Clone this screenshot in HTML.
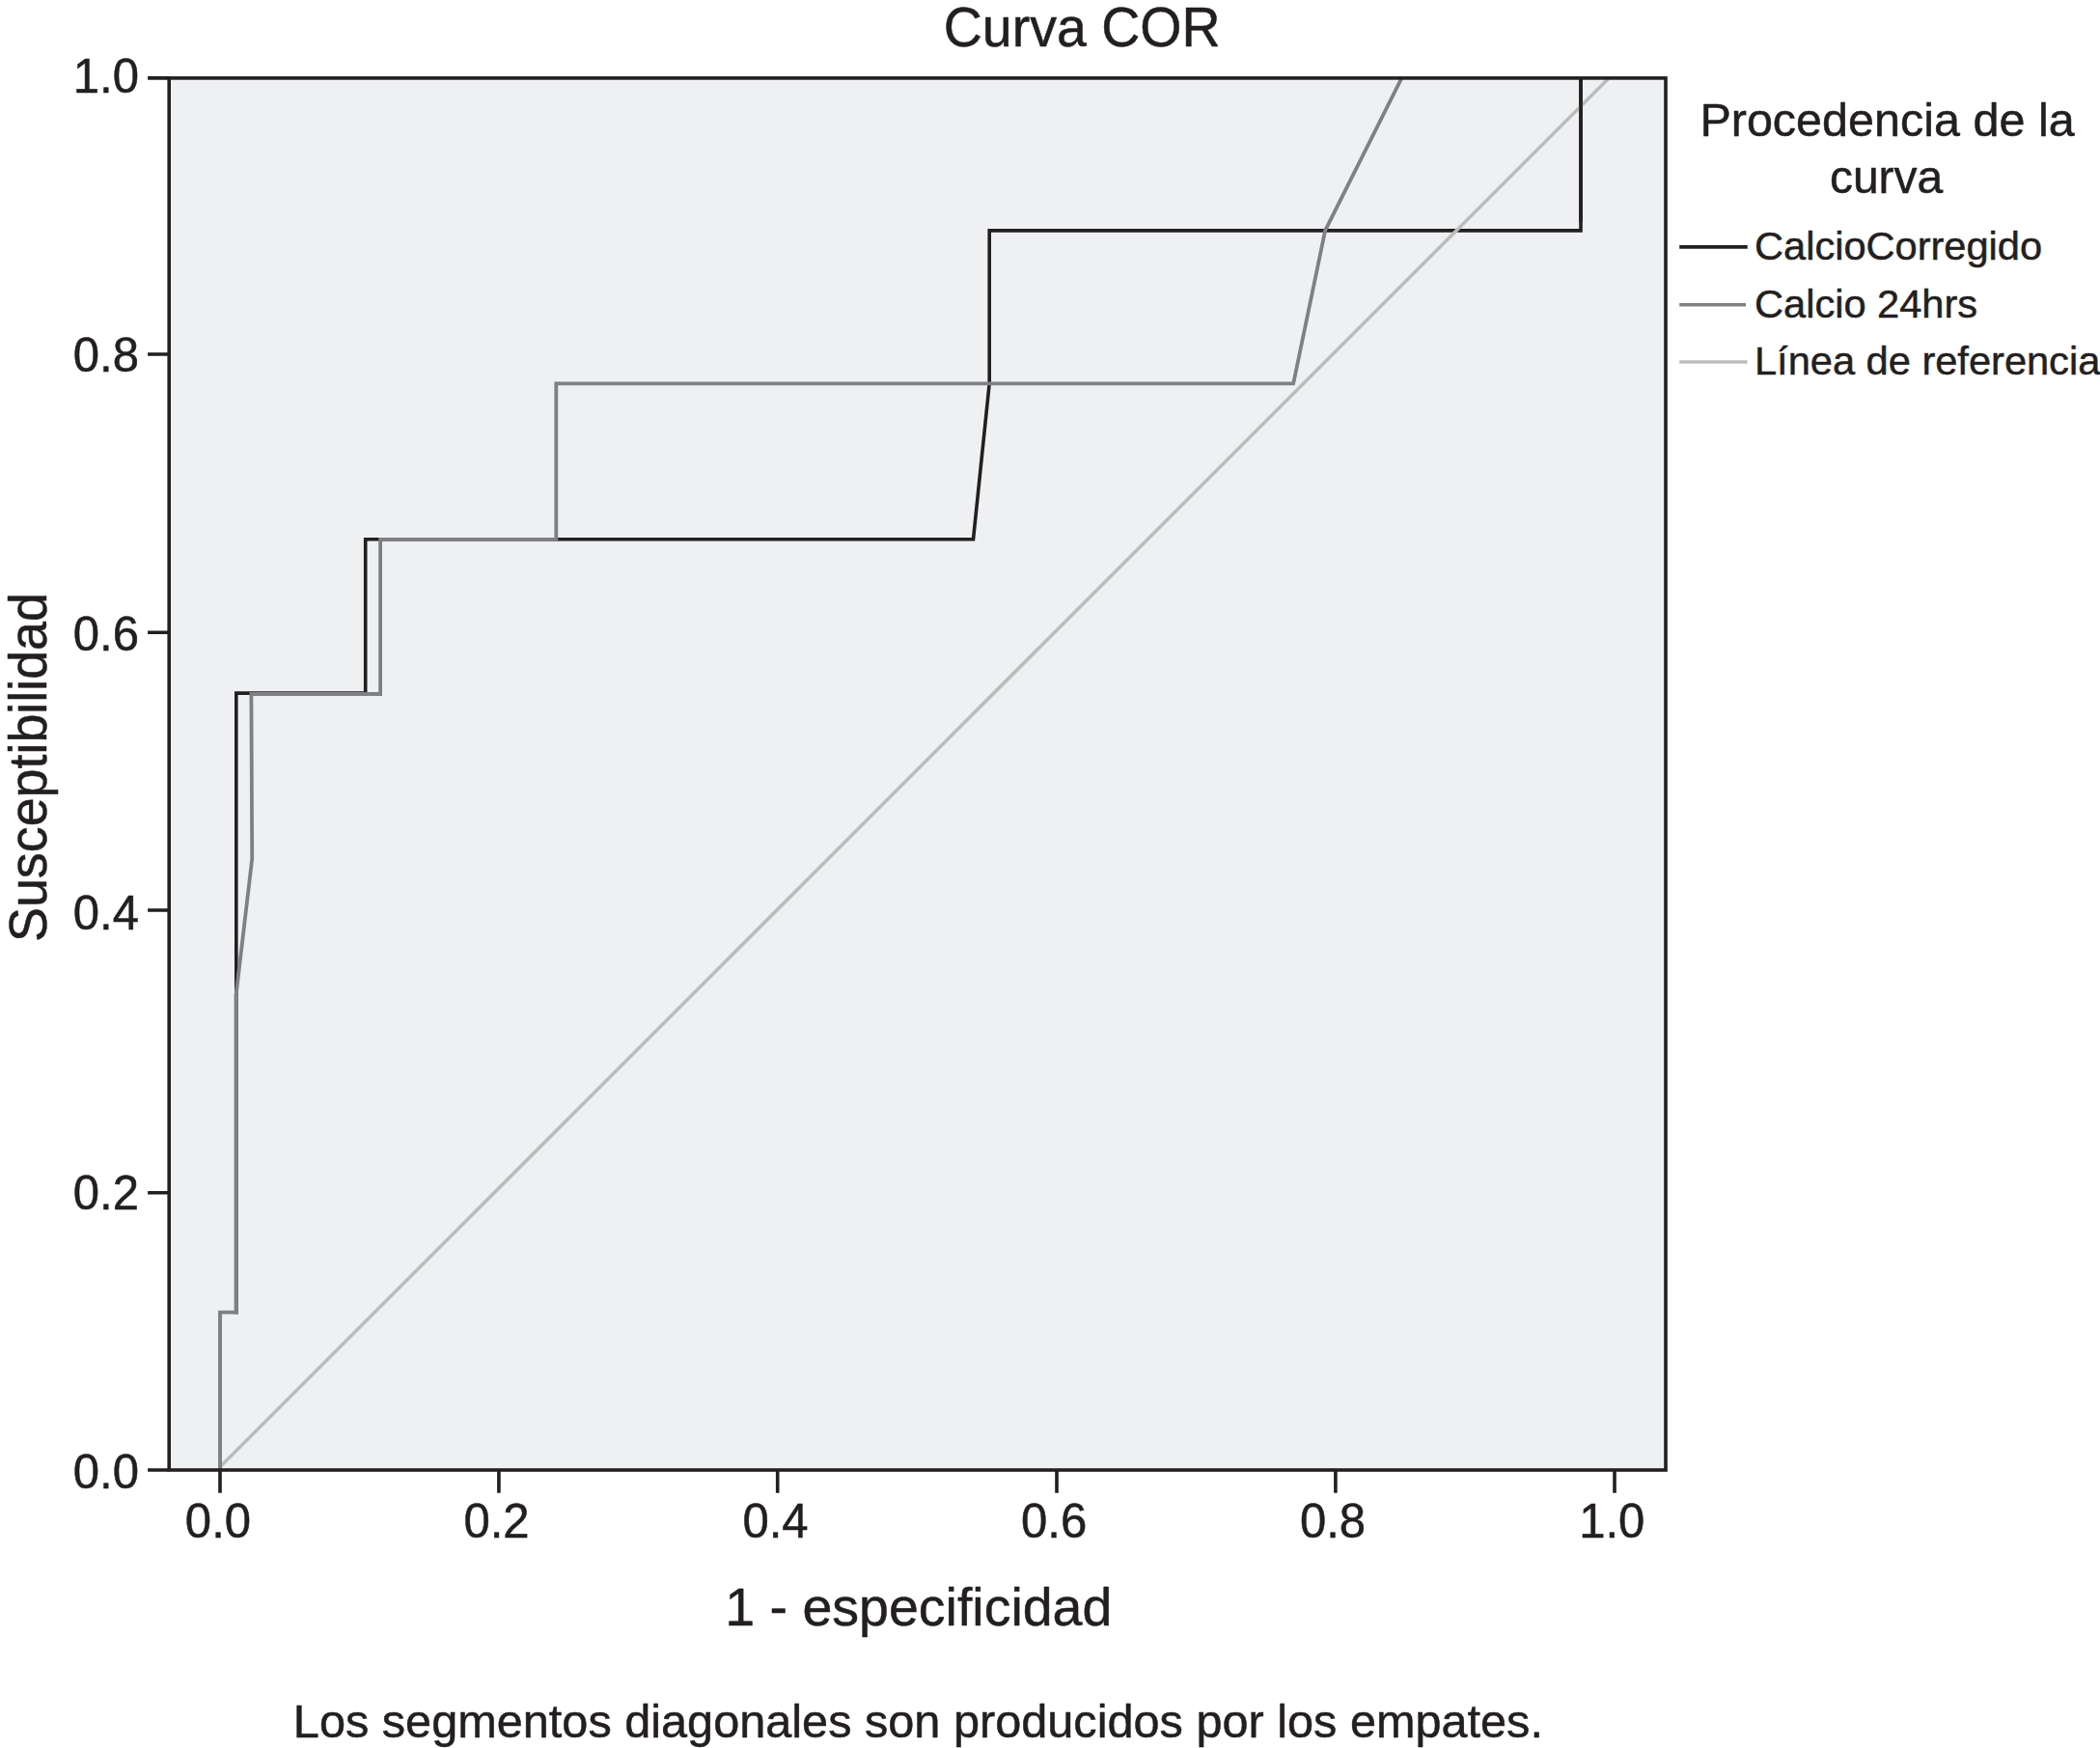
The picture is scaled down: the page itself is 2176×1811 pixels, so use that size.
<!DOCTYPE html>
<html lang="es">
<head>
<meta charset="utf-8">
<title>Curva COR</title>
<style>
html,body{margin:0;padding:0;background:#fff;}
body{width:2176px;height:1811px;overflow:hidden;}
svg{display:block;}
text{font-family:"Liberation Sans",Arial,Helvetica,sans-serif;fill:#231f20;stroke:#231f20;stroke-linejoin:round;}
</style>
</head>
<body>
<svg width="2176" height="1811" viewBox="0 0 2176 1811">
<rect x="0" y="0" width="2176" height="1811" fill="#ffffff"/>
<!-- plot area -->
<rect x="175.2" y="80.9" width="1550.8" height="1442.1" fill="#eef0f1"/>
<!-- curves: CalcioCorregido, reference line, Calcio 24hrs -->
<g fill="none" stroke-width="3.6" stroke-linejoin="miter" stroke-linecap="butt">
<path d="M228 1523 L228 1359.7 L244.8 1359.7" stroke="#231f20" stroke-width="2.8"/>
<path d="M244.8 1361.1 L244.8 718.1 L378.7 718.1 L378.7 558.8 L1008.5 558.8 L1025.2 397.2 L1025.2 238.9 L1638 238.9 L1638 80.9" stroke="#231f20"/>
<path d="M228 1519.8 L1667.1 80.9" stroke="#bbbcbe"/>
<path d="M1638 230 L1638 80.9" stroke="#231f20"/>
<path d="M228.1 1523 L228.1 1359.7 L244.8 1359.7 L244.8 1029 L261.2 890 L260.4 719 L394.1 719 L394.1 558.8 L576.3 558.8 L576.3 397.4 L1340.2 397.4 L1373.1 239 L1452.4 80.9" stroke="#7f8083" stroke-width="3.8"/>
<path d="M244.8 1361.6 L244.8 1029" stroke="#7f8083" stroke-width="4.3"/>
</g>
<!-- frame -->
<rect x="175.2" y="80.9" width="1550.8" height="1442.1" fill="none" stroke="#231f20" stroke-width="3.6"/>
<!-- ticks -->
<g stroke="#231f20" stroke-width="3.6" fill="none">
<path d="M153.1 80.9H175.2M153.1 367H175.2M153.1 655.3H175.2M153.1 943H175.2M153.1 1235.8H175.2M153.1 1523H175.2"/>
<path d="M228 1523V1546.8M516.9 1523V1546.8M805.7 1523V1546.8M1095 1523V1546.8M1383.9 1523V1546.8M1673 1523V1546.8"/>
</g>
<!-- y tick labels -->
<text transform="translate(144.0 96.0) scale(1.012 1.025)" font-size="48.5" text-anchor="end" stroke-width="0.5">1.0</text>
<text transform="translate(144.0 385.1) scale(1.012 1.025)" font-size="48.5" text-anchor="end" stroke-width="0.5">0.8</text>
<text transform="translate(144.0 674.2) scale(1.012 1.025)" font-size="48.5" text-anchor="end" stroke-width="0.5">0.6</text>
<text transform="translate(144.0 963.2) scale(1.012 1.025)" font-size="48.5" text-anchor="end" stroke-width="0.5">0.4</text>
<text transform="translate(144.0 1253.1) scale(1.012 1.025)" font-size="48.5" text-anchor="end" stroke-width="0.5">0.2</text>
<text transform="translate(144.0 1542.2) scale(1.012 1.025)" font-size="48.5" text-anchor="end" stroke-width="0.5">0.0</text>
<!-- x tick labels -->
<text transform="translate(225.95 1592.9) scale(1.012 1.025)" font-size="48.5" text-anchor="middle" stroke-width="0.5">0.0</text>
<text transform="translate(514.5 1592.9) scale(1.012 1.025)" font-size="48.5" text-anchor="middle" stroke-width="0.5">0.2</text>
<text transform="translate(803.55 1592.9) scale(1.012 1.025)" font-size="48.5" text-anchor="middle" stroke-width="0.5">0.4</text>
<text transform="translate(1092.15 1592.9) scale(1.012 1.025)" font-size="48.5" text-anchor="middle" stroke-width="0.5">0.6</text>
<text transform="translate(1381.05 1592.9) scale(1.012 1.025)" font-size="48.5" text-anchor="middle" stroke-width="0.5">0.8</text>
<text transform="translate(1670.3 1592.9) scale(1.012 1.025)" font-size="48.5" text-anchor="middle" stroke-width="0.5">1.0</text>
<!-- titles -->
<text transform="translate(1121.1 48.2) scale(1 1.03)" font-size="55.5" text-anchor="middle" stroke-width="0.5">Curva COR</text>
<text transform="translate(951.8 1683.6)" font-size="55.5" text-anchor="middle" stroke-width="0.5">1 - especificidad</text>
<text transform="translate(48.0 795) rotate(-90) scale(1 1.03)" font-size="53.8" text-anchor="middle" stroke-width="0.5">Susceptibilidad</text>
<text transform="translate(951.4 1800) scale(1.0136 1)" font-size="48" text-anchor="middle" stroke-width="0.5">Los segmentos diagonales son producidos por los empates.</text>
<!-- legend -->
<text transform="translate(1955.5 141.1)" font-size="48.5" text-anchor="middle" stroke-width="0.5">Procedencia de la</text>
<text transform="translate(1954.6 199.9) scale(0.99 1.0)" font-size="48.5" text-anchor="middle" stroke-width="0.5">curva</text>
<g stroke-width="3.6" fill="none">
<path d="M1740.2 255.9H1810.7" stroke="#231f20" stroke-width="3.9"/>
<path d="M1740.2 315.7H1809" stroke="#7f8083" stroke-width="3.5"/>
<path d="M1740.2 375H1810.5" stroke="#bbbcbe"/>
</g>
<text transform="translate(1818 269) scale(1 0.985)" font-size="41.6" text-anchor="start" stroke-width="0.5">CalcioCorregido</text>
<text transform="translate(1818 328.9) scale(1 0.985)" font-size="41.6" text-anchor="start" stroke-width="0.5">Calcio 24hrs</text>
<text transform="translate(1818 387.6) scale(1 0.985)" font-size="41.6" text-anchor="start" stroke-width="0.5">Línea de referencia</text>
</svg>
</body>
</html>
